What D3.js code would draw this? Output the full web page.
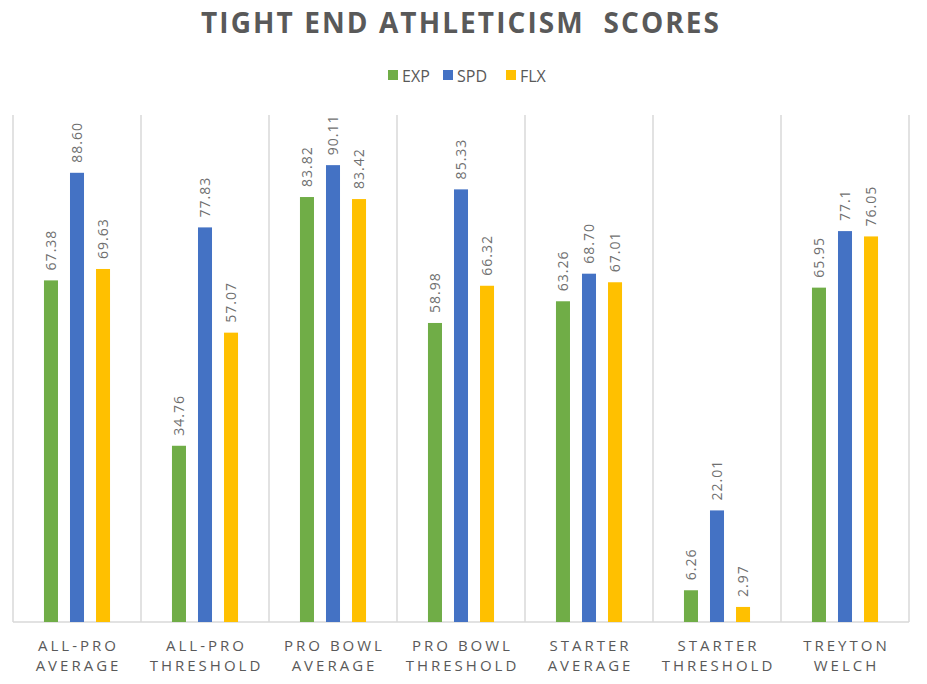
<!DOCTYPE html>
<html>
<head>
<meta charset="utf-8">
<script src="https://cdn.jsdelivr.net/npm/d3@7"></script>
<style>
  body { margin: 0; background: #fff; }
  svg { display: block; font-family: "Open Sans", "Liberation Sans", sans-serif; }
</style>
</head>
<body>
<svg id="chart" width="927" height="684"></svg>
<script>
// chart data
const categories = [
  ['ALL-PRO', 'AVERAGE'],
  ['ALL-PRO', 'THRESHOLD'],
  ['PRO BOWL', 'AVERAGE'],
  ['PRO BOWL', 'THRESHOLD'],
  ['STARTER', 'AVERAGE'],
  ['STARTER', 'THRESHOLD'],
  ['TREYTON', 'WELCH']
];
const seriesNames = ['EXP', 'SPD', 'FLX'];
const expValues = [67.38, 34.76, 83.82, 58.98, 63.26, 6.26, 65.95];
const spdValues = [88.60, 77.83, 90.11, 85.33, 68.70, 22.01, 77.1];
const flxValues = [69.63, 57.07, 83.42, 66.32, 67.01, 2.97, 76.05];
const expLabels = ['67.38', '34.76', '83.82', '58.98', '63.26', '6.26', '65.95'];
const spdLabels = ['88.60', '77.83', '90.11', '85.33', '68.70', '22.01', '77.1'];
const flxLabels = ['69.63', '57.07', '83.42', '66.32', '67.01', '2.97', '76.05'];
const colors = ['#70ad47', '#4472c4', '#ffc000'];

const svg = d3.select('#chart');
const plotLeft = 13, plotRight = 909, plotTop = 115, plotBottom = 622;
const textColor = '#595959';

const seriesValues = [expValues, spdValues, flxValues];
const seriesLabels = [expLabels, spdLabels, flxLabels];

const x = d3.scaleBand()
  .domain(d3.range(categories.length))
  .range([plotLeft, plotRight])
  .padding(0);

const xInner = d3.scaleBand()
  .domain(seriesNames)
  .range([0, x.bandwidth()])
  .paddingInner(0.4615)
  .paddingOuter(1.19);

const y = d3.scaleLinear().domain([0, 100]).range([plotBottom, plotTop]);

// title
svg.append('text')
  .attr('x', 460)
  .attr('y', 33)
  .attr('text-anchor', 'middle')
  .attr('font-size', 28)
  .attr('font-weight', 'bold')
  .attr('fill', textColor)
  .attr('textLength', 518)
  .attr('lengthAdjust', 'spacing')
  .style('white-space', 'pre')
  .text('TIGHT END ATHLETICISM  SCORES');

// legend
const legendX = [388, 443, 506];
const legend = svg.append('g')
  .selectAll('g')
  .data(seriesNames)
  .enter()
  .append('g')
  .attr('transform', (d, i) => 'translate(' + legendX[i] + ',70)');
legend.append('rect')
  .attr('width', 10)
  .attr('height', 10)
  .attr('fill', (d, i) => colors[i]);
legend.append('text')
  .attr('x', 14)
  .attr('y', 11.5)
  .attr('font-size', 16)
  .attr('fill', textColor)
  .text(d => d);

// category separators
const bounds = d3.range(categories.length).map(i => x(i)).concat([x(categories.length - 1) + x.bandwidth()]);
svg.append('g')
  .selectAll('line')
  .data(bounds)
  .enter()
  .append('line')
  .attr('x1', d => d)
  .attr('x2', d => d)
  .attr('y1', plotTop)
  .attr('y2', plotBottom)
  .attr('stroke', '#d9d9d9')
  .attr('stroke-width', 1.5);

svg.append('line')
  .attr('x1', plotLeft)
  .attr('x2', plotRight)
  .attr('y1', plotBottom)
  .attr('y2', plotBottom)
  .attr('stroke', '#d9d9d9')
  .attr('stroke-width', 1.5);

// bars
const groups = svg.append('g')
  .selectAll('g')
  .data(categories)
  .enter()
  .append('g')
  .attr('transform', (d, i) => 'translate(' + x(i) + ',0)');

groups.each(function(cat, ci) {
  const g = d3.select(this);
  seriesNames.forEach((s, si) => {
    const v = seriesValues[si][ci];
    g.append('rect')
      .attr('x', xInner(s))
      .attr('y', y(v))
      .attr('width', xInner.bandwidth())
      .attr('height', plotBottom - y(v))
      .attr('fill', colors[si]);
    const cx = xInner(s) + xInner.bandwidth() / 2;
    g.append('text')
      .attr('transform', 'translate(' + cx + ',' + (y(v) - 10) + ') rotate(-90)')
      .attr('dy', '0.35em')
      .attr('font-size', 14)
      .attr('letter-spacing', 1)
      .attr('fill', '#6f6f6f')
      .text(seriesLabels[si][ci]);
  });
  // category label, two lines
  g.selectAll('text.cat')
    .data(cat)
    .enter()
    .append('text')
    .attr('class', 'cat')
    .attr('x', x.bandwidth() / 2 + 1.5)
    .attr('y', (d, i) => 651 + i * 20)
    .attr('text-anchor', 'middle')
    .attr('font-size', 15)
    .attr('letter-spacing', 3)
    .attr('fill', textColor)
    .text(d => d);
});
</script>
</body>
</html>
